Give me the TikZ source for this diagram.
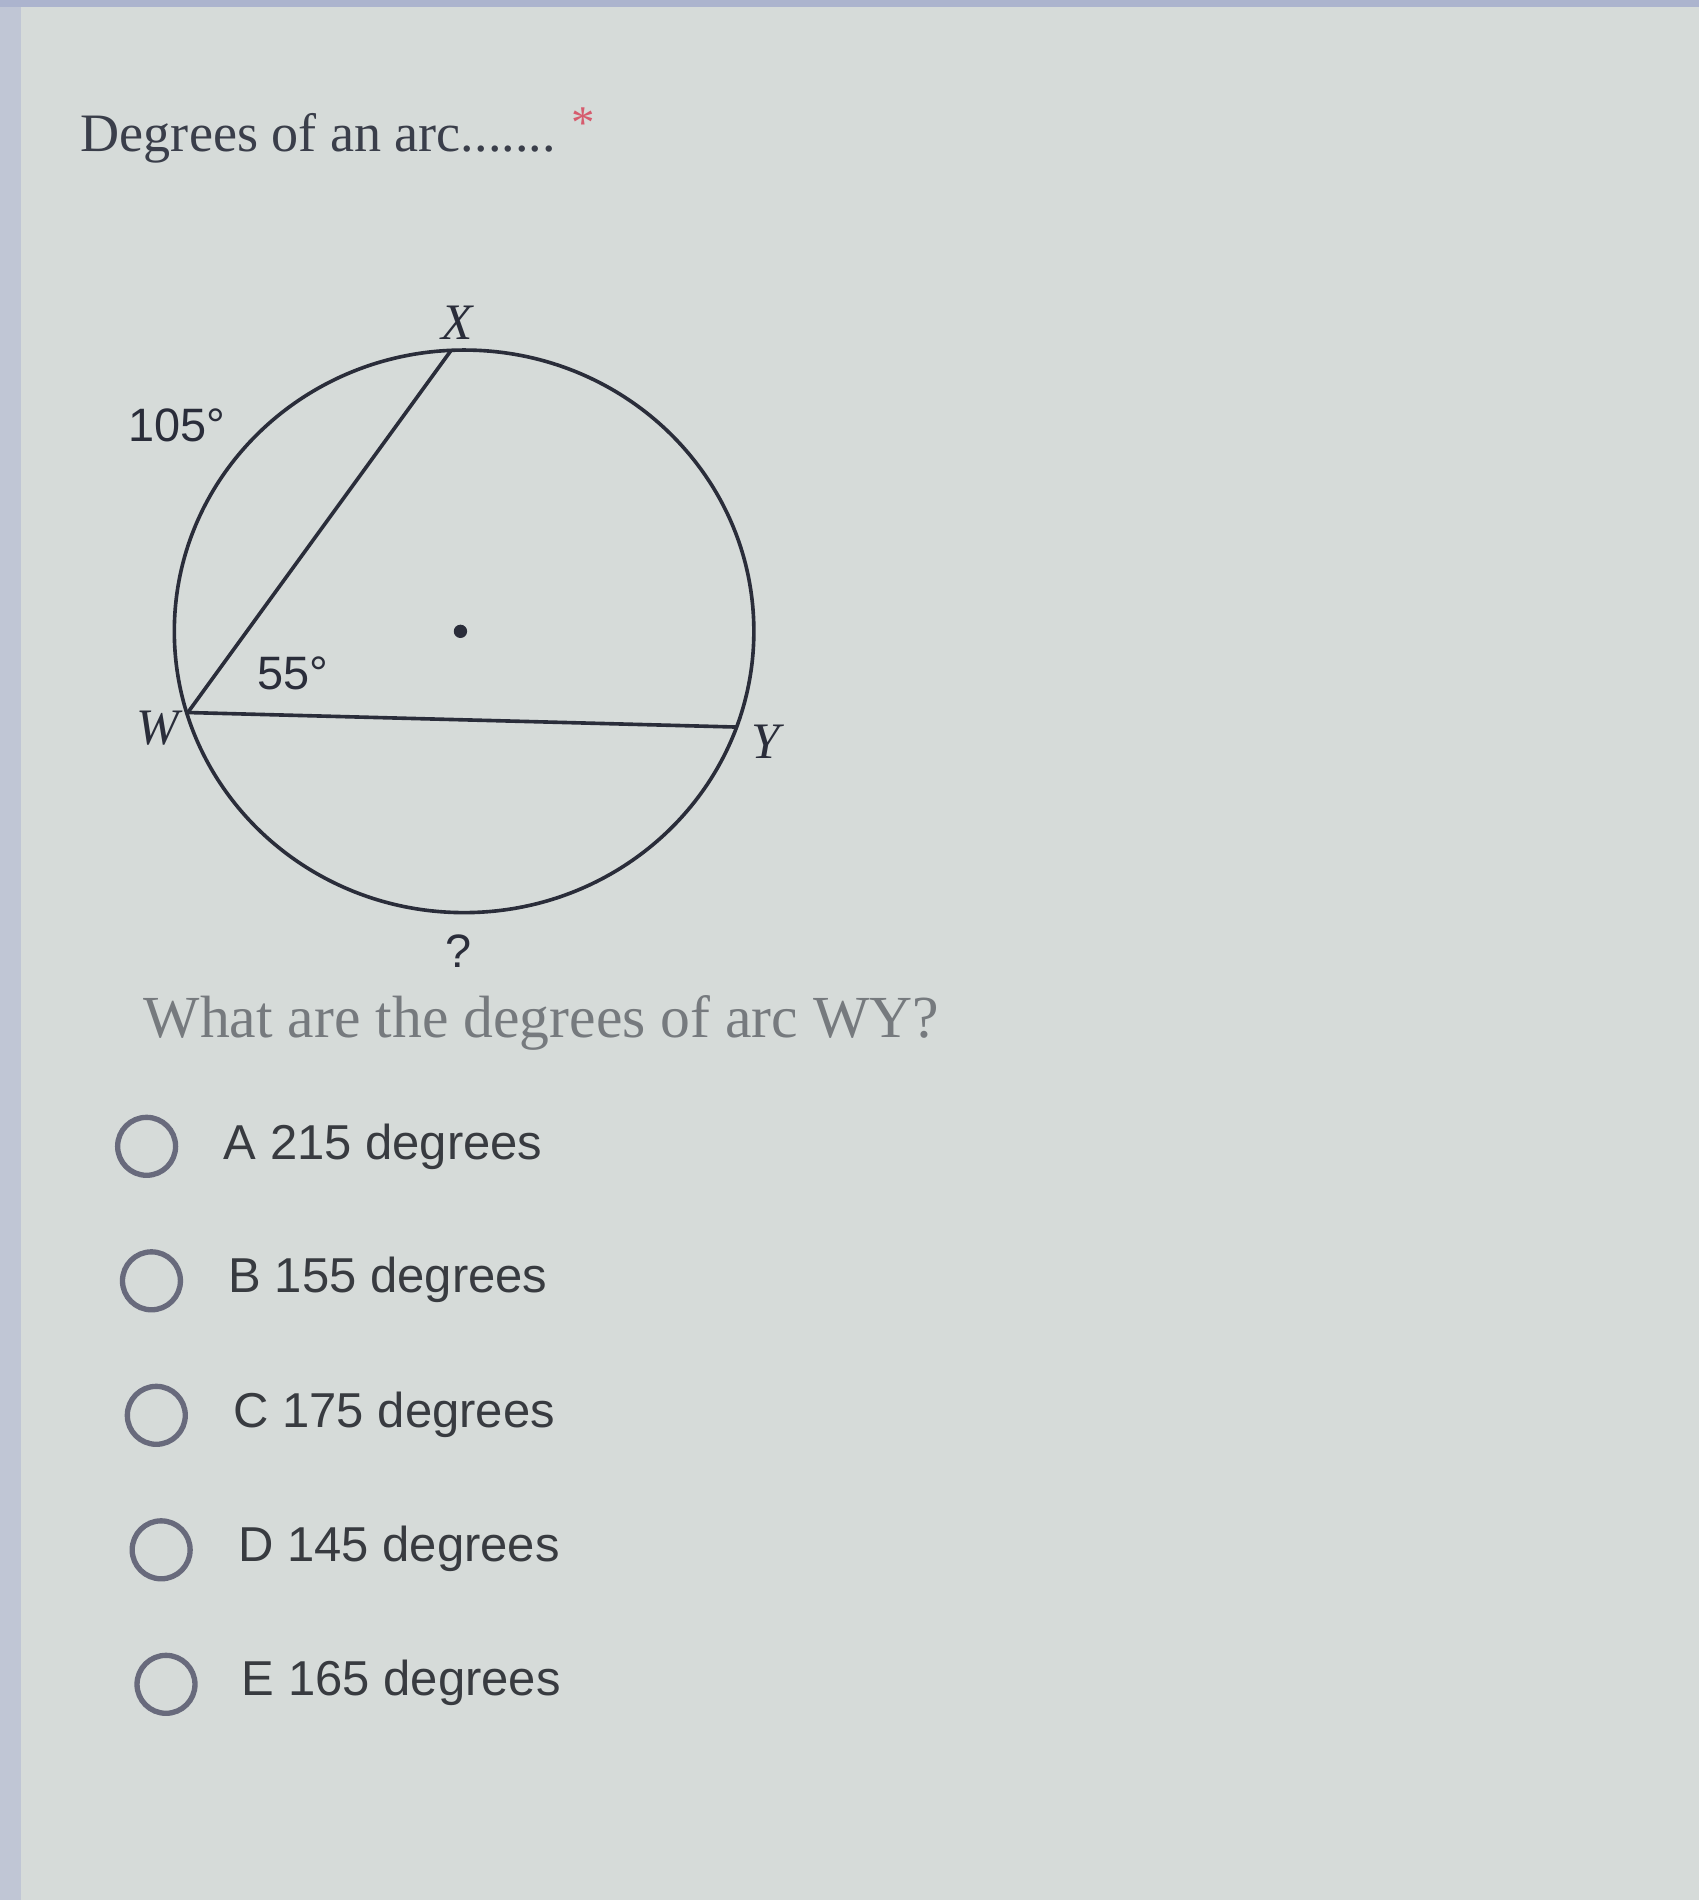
\documentclass[tikz,border=0pt]{standalone}
\usepackage{fontspec}
\setmainfont{Liberation Serif}
\setsansfont{Liberation Sans}
\definecolor{bgc}{RGB}{214,219,217}
\definecolor{topc}{RGB}{172,180,206}
\definecolor{leftc}{RGB}{192,198,213}
\definecolor{ink}{RGB}{42,45,58}
\definecolor{titlec}{RGB}{58,62,74}
\definecolor{qc}{RGB}{118,122,126}
\definecolor{optc}{RGB}{56,59,64}
\definecolor{radioc}{RGB}{104,106,124}
\definecolor{starc}{RGB}{214,92,110}
\tikzset{
  figline/.style={draw=ink, line width=0.85pt},
  ptlabel/.style={font=\fontsize{12}{14}\selectfont\itshape, text=ink, inner sep=0pt},
  anglabel/.style={font=\sffamily\fontsize{11}{13}\selectfont, text=ink, inner sep=0pt},
  radio/.style={circle, draw=radioc, line width=1.25pt, minimum size=13.6pt, inner sep=0pt},
  opttext/.style={anchor=base west, font=\sffamily\fontsize{11.5}{14}\selectfont, text=optc, inner sep=0pt}
}
\begin{document}
\begin{tikzpicture}[x=0.01cm,y=-0.01cm]
\useasboundingbox (0,0) rectangle (1402,1568);
% background
\fill[bgc] (0,0) rectangle (1402,1568);
\fill[leftc] (0,0) rectangle (17,1568);
\fill[topc] (0,0) rectangle (1402,6);
% title
\node[anchor=base west, font=\fontsize{12.7}{15}\selectfont, text=titlec, inner sep=0pt] (title) at (66,125) {Degrees of an arc.......};
\node[font=\fontsize{11}{13}\selectfont, text=starc, inner sep=0pt] (star) at (481,102) {*};
% circle
\coordinate (O) at (383,521);
\draw[figline] (O) ellipse [x radius=2.39cm, y radius=2.32cm];
\coordinate (X) at (372,289.5);
\coordinate (W) at (155,588);
\coordinate (Y) at (608,600);
\draw[figline] (W) -- (X);
\draw[figline] (W) -- (Y);
\fill[ink] (380,521) circle [radius=5.5];
% labels
\node[ptlabel] (lX) at (377,266) {X};
\node[ptlabel] (lW) at (130,601) {W};
\node[ptlabel] (lY) at (632,612) {Y};
\node[anglabel] (a105) at (146,351) {105°};
\node[anglabel] (a55) at (242,556) {55°};
\node[anglabel] (aq) at (378,785) {?};
% question
\node[anchor=base west, font=\fontsize{14}{17}\selectfont, text=qc, inner sep=0pt] (q) at (118,856) {What are the degrees of arc WY?};
% options
\node[radio] (rA) at (121,946) {};
\node[opttext] (tA) at (184,957) {A 215 degrees};
\node[radio] (rB) at (125,1057) {};
\node[opttext] (tB) at (188,1067) {B 155 degrees};
\node[radio] (rC) at (129,1168) {};
\node[opttext] (tC) at (192,1178) {C 175 degrees};
\node[radio] (rD) at (133,1279) {};
\node[opttext] (tD) at (196,1289) {D 145 degrees};
\node[radio] (rE) at (137,1390) {};
\node[opttext] (tE) at (199,1399) {E 165 degrees};
\end{tikzpicture}
\end{document}
